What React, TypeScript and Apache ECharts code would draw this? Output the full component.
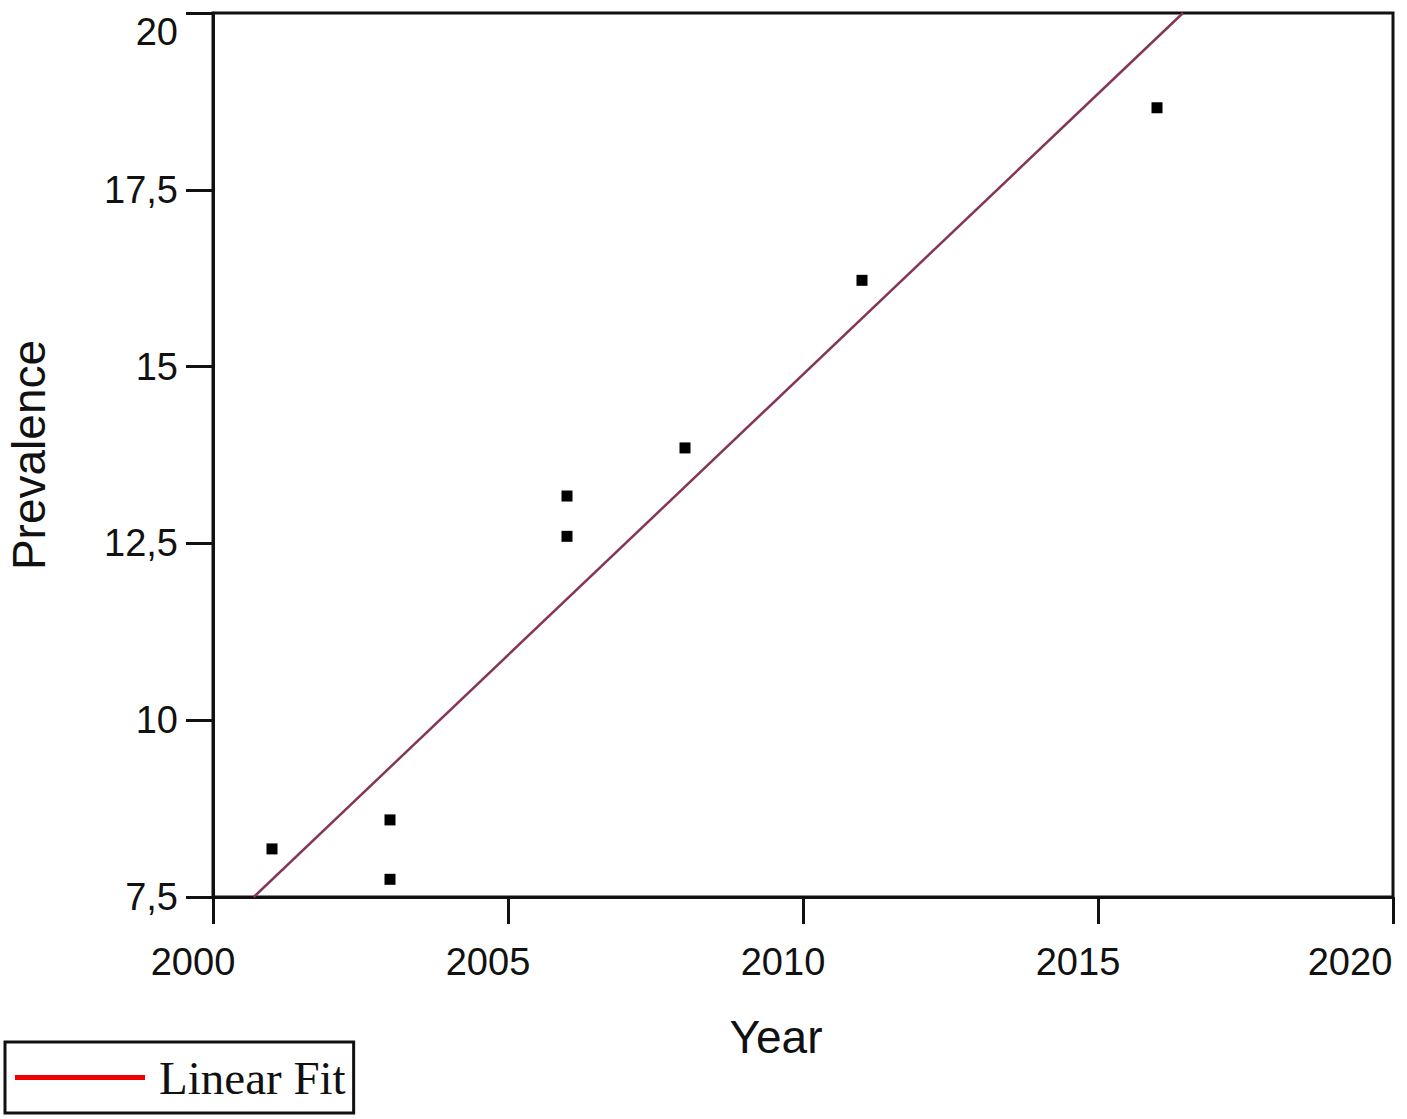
import React, { useEffect, useRef } from "react";
import * as echarts from "echarts";

// survey years and measured prevalence
const years = [2001, 2003, 2003, 2006, 2006, 2008, 2011, 2016];
const prevalence = [8.18, 8.59, 7.75, 13.17, 12.6, 13.85, 16.22, 18.66];

// fitted line end points
const fitYears = [2000.69, 2016.44];
const fitValues = [7.5, 20];

const xTicks = [2000, 2005, 2010, 2015, 2020];
const yTicks = [7.5, 10, 12.5, 15, 17.5, 20];

const sans = "'Liberation Sans', Arial, sans-serif";
const serif = "'Liberation Serif', 'Times New Roman', serif";

const App = () => {
  const chartRef = useRef<HTMLDivElement>(null);

  // eslint-disable-next-line consistent-return
  useEffect(() => {
    if (chartRef.current) {
      const chart = echarts.init(chartRef.current, undefined, { renderer: "svg" });
      const axisLine = { show: true, onZero: false, lineStyle: { color: "#111", width: 3 } };
      const lastYear = xTicks[xTicks.length - 1];
      const options: echarts.EChartsOption = {
        animation: false,
        backgroundColor: "#fff",
        grid: {
          left: 213,
          top: 13,
          right: 14,
          bottom: 222,
          containLabel: false,
          outerBoundsMode: "none",
          show: true,
          borderColor: "#111",
          borderWidth: 3,
        } as any,
        xAxis: {
          type: "value",
          min: xTicks[0],
          max: lastYear,
          interval: 5,
          name: "Year",
          nameLocation: "middle",
          nameGap: 117,
          nameTextStyle: { fontFamily: sans, fontSize: 46, color: "#111", padding: [0, 54, 0, 0] },
          axisLine,
          axisTick: { show: true, inside: false, length: 27, lineStyle: { color: "#111", width: 3 } },
          axisLabel: {
            margin: 46,
            fontFamily: sans,
            fontSize: 38,
            color: "#111",
            padding: [0, 40, 0, 0],
            formatter: (v: number) => (v === lastYear ? `{last|${v}}` : String(v)),
            rich: {
              last: { fontFamily: sans, fontSize: 38, color: "#111", padding: [0, 46, 0, 0] },
            },
          },
          splitLine: { show: false },
        },
        yAxis: {
          type: "value",
          min: yTicks[0],
          max: yTicks[yTicks.length - 1],
          interval: 2.5,
          name: "Prevalence",
          nameLocation: "middle",
          nameGap: 161,
          nameTextStyle: { fontFamily: sans, fontSize: 46, color: "#111" },
          axisLine,
          axisTick: { show: true, inside: false, length: 27, lineStyle: { color: "#111", width: 3 } },
          axisLabel: {
            margin: 35,
            fontFamily: sans,
            fontSize: 38,
            color: "#111",
            verticalAlignMaxLabel: "top",
            formatter: (v: number) => String(v).replace(".", ","),
          } as any,
          splitLine: { show: false },
        },
        legend: {
          left: 5,
          top: 1042,
          orient: "horizontal",
          borderColor: "#111",
          borderWidth: 3,
          borderRadius: 0,
          padding: [12, 8, 12, 10],
          itemWidth: 130,
          itemHeight: 5,
          textStyle: { fontFamily: serif, fontSize: 47, color: "#111", padding: [0, 0, 0, 9] },
          data: [{ name: "Linear Fit", icon: "rect", itemStyle: { color: "#ee0000" } }],
        },
        series: [
          {
            name: "Linear Fit",
            type: "line",
            data: fitYears.map((x, i) => [x, fitValues[i]]),
            showSymbol: false,
            lineStyle: { color: "#86355a", width: 2.5 },
            itemStyle: { color: "#86355a" },
          },
          {
            name: "Prevalence",
            type: "scatter",
            data: years.map((x, i) => [x, prevalence[i]]),
            symbol: "rect",
            symbolSize: 11,
            itemStyle: { color: "#000", opacity: 1 },
          },
        ],
      };
      chart.setOption(options);
      return () => {
        chart.dispose();
      };
    }
  }, []);

  return (
    <div
      ref={chartRef}
      style={{ position: "fixed", left: 0, top: 0, width: "1407px", height: "1119px" }}
    />
  );
};

export default App;
